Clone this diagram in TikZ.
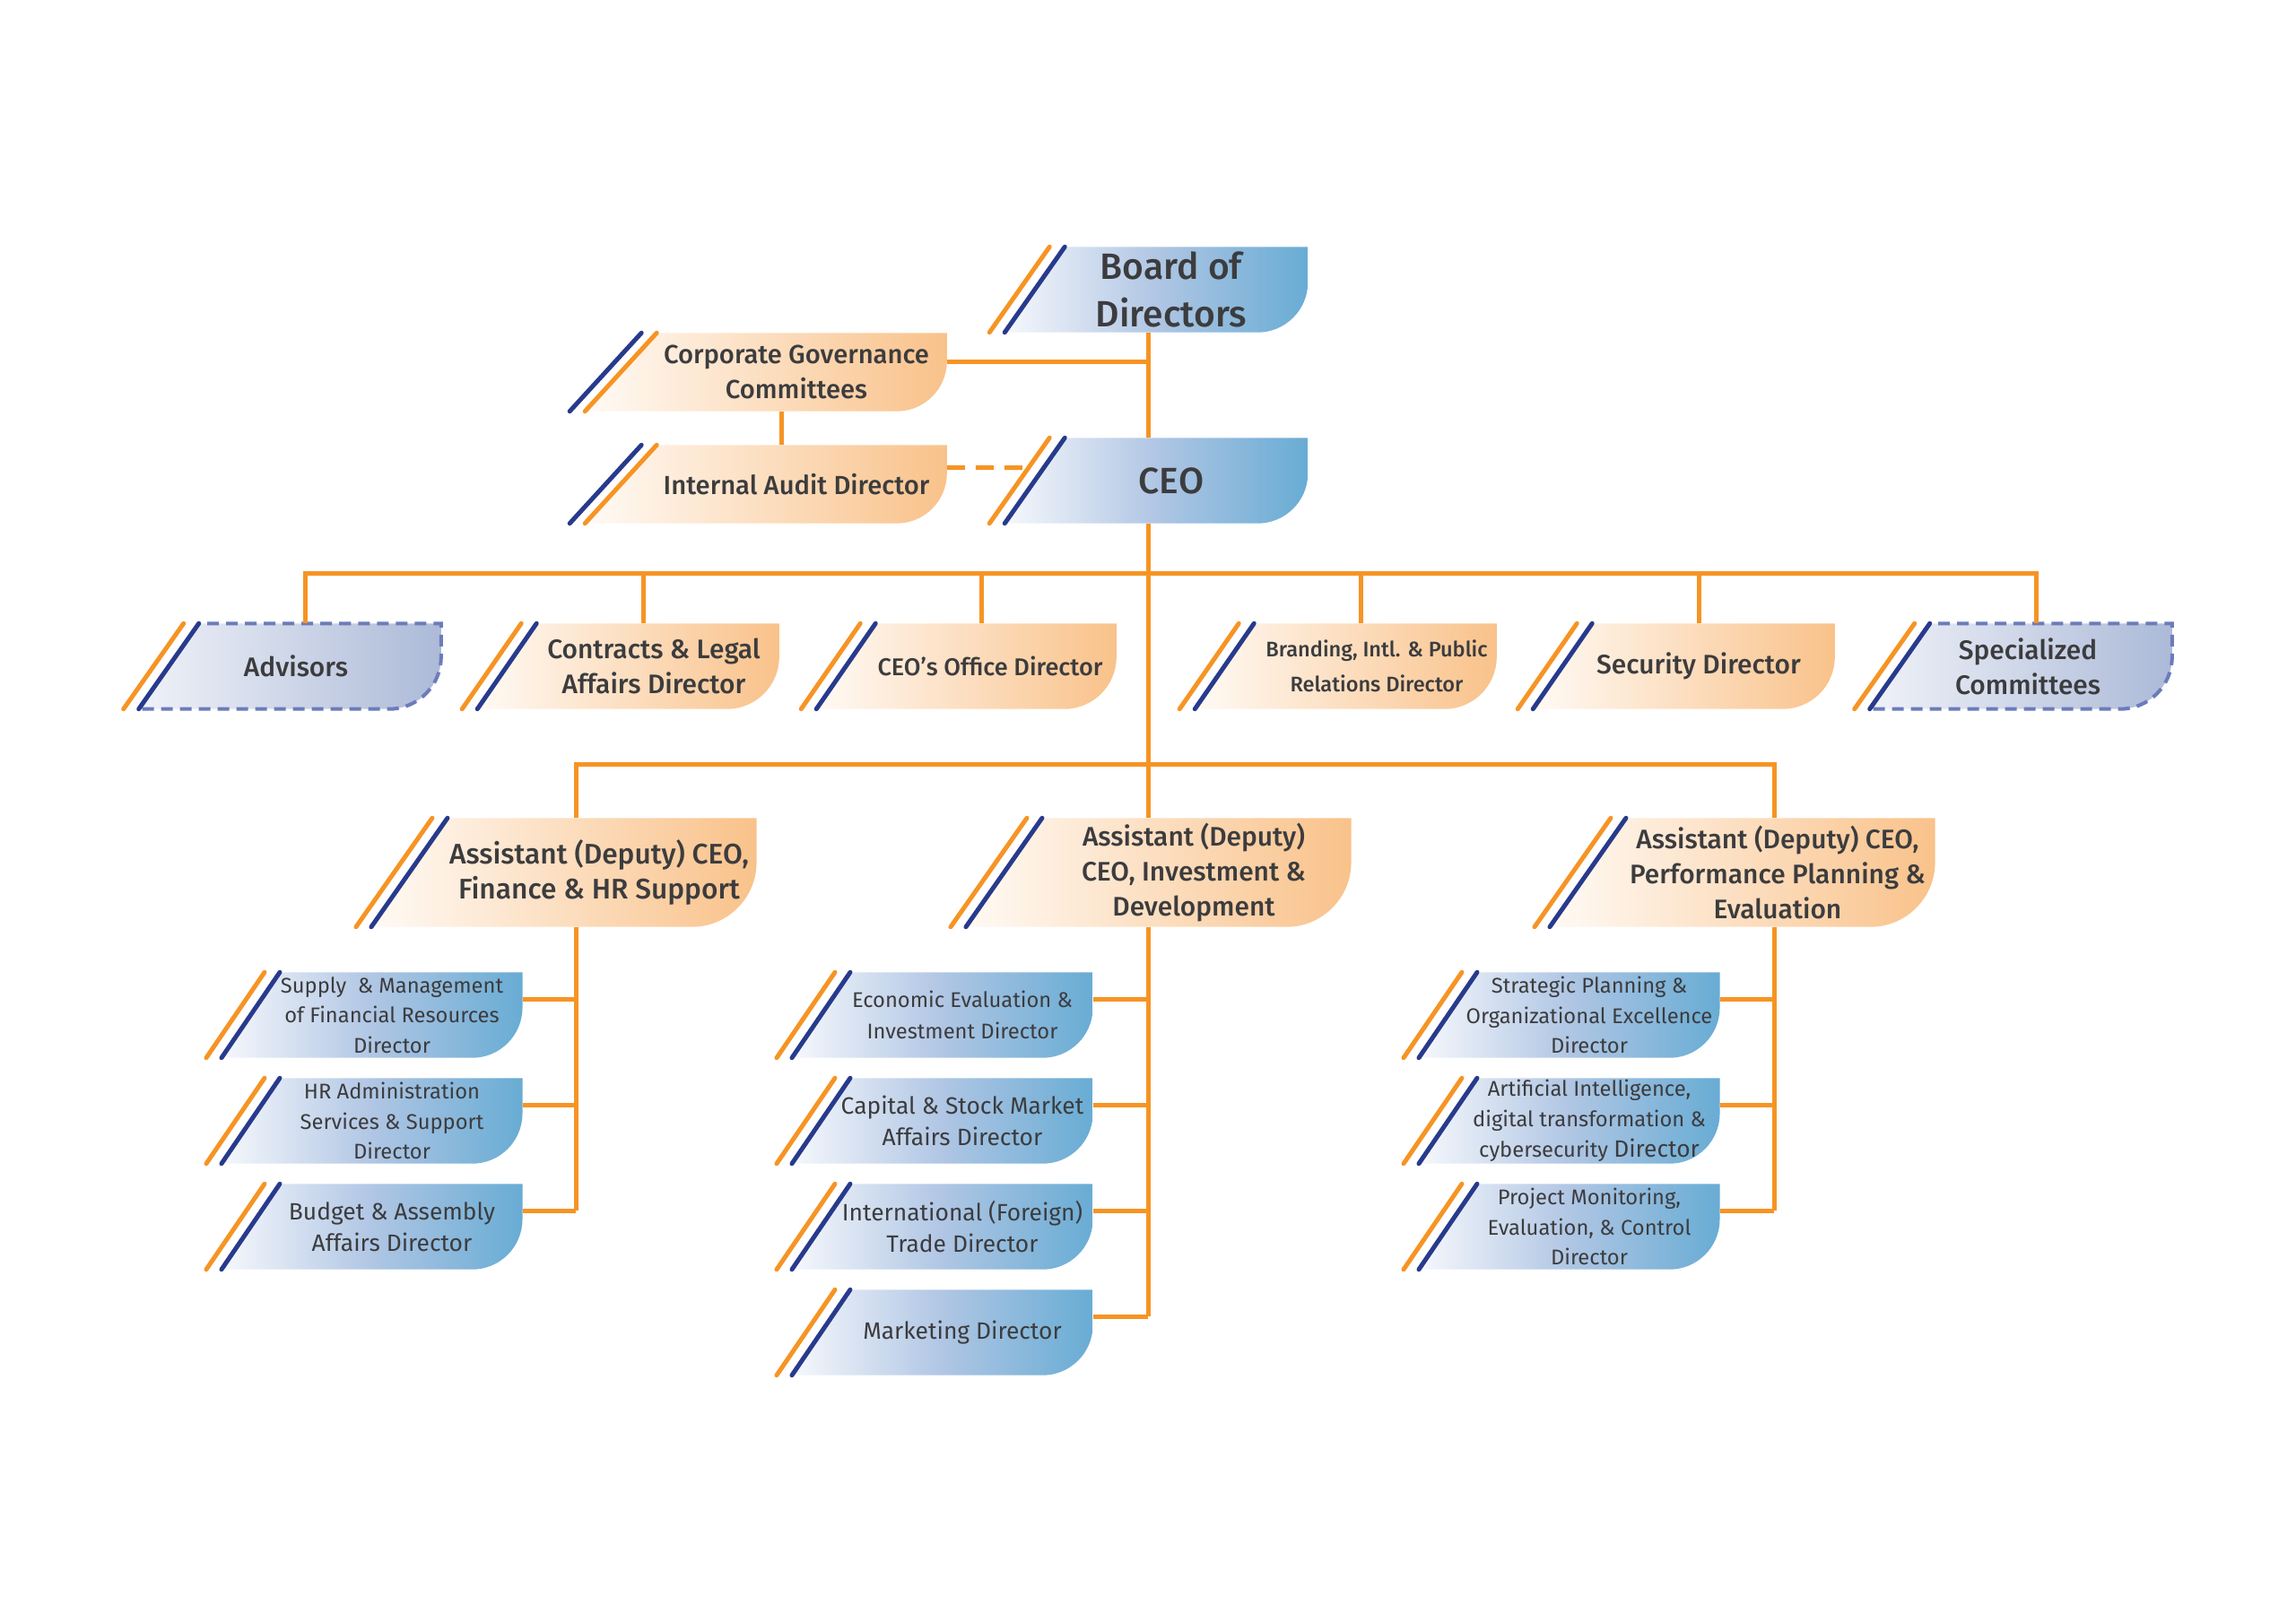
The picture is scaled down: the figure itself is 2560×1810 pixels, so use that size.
\documentclass[tikz,border=0pt]{standalone}
\usepackage{fontspec}
\setmainfont{Fira Sans}[BoldFont={Fira Sans Medium}]
\usetikzlibrary{calc,backgrounds}
\definecolor{lineor}{RGB}{246,148,36}
\definecolor{navy}{RGB}{40,58,140}
\definecolor{blueL}{RGB}{246,248,252}
\definecolor{blueM}{RGB}{176,198,228}
\definecolor{blueR}{RGB}{104,172,212}
\definecolor{orL}{RGB}{255,250,245}
\definecolor{orR}{RGB}{249,194,138}
\definecolor{greyL}{RGB}{240,242,248}
\definecolor{greyR}{RGB}{172,186,216}
\definecolor{dashc}{RGB}{108,124,186}
\definecolor{txt}{RGB}{60,60,62}
\newcommand\fbig{\fontsize{11.6}{15}\selectfont}
\newcommand\fmed{\fontsize{8.5}{11.1}\selectfont}
\newcommand\fsm{\fontsize{7.5}{10}\selectfont}
\newcommand\ftiny{\fontsize{6.75}{9.6}\selectfont}
\tikzset{
  link/.style={draw=lineor,line width=0.05cm},
  slash/.style={line width=0.05cm,line cap=round},
  tb/.style={inner sep=0pt,align=center,text=txt},
  topbox/.style={tb,minimum width=3.03cm,minimum height=0.94cm,font=\fbig\bfseries},
  govbox/.style={tb,minimum width=3.34cm,minimum height=0.86cm,font=\fontsize{8.3}{11}\selectfont\bfseries},
  rowbox/.style={tb,minimum width=3.02cm,minimum height=0.94cm,font=\fmed\bfseries},
  asstbox/.style={tb,minimum width=3.495cm,minimum height=1.2cm,font=\fmed\bfseries},
  lowbox/.style={tb,minimum width=2.895cm,minimum height=0.94cm,font=\ftiny},
  bluefill/.style={left color=blueL,right color=blueR,middle color=blueM},
  orfill/.style={left color=orL,right color=orR},
  greyfill/.style={left color=greyL,right color=greyR,draw=dashc,line width=0.04cm,dash pattern=on 0.13cm off 0.08cm}
}
% tab behind a node: name, slant, corner, fill, outer slash, inner slash, left extension
\newcommand\orgtab[7]{%
  \begin{scope}[on background layer]
    \path[#4] ($(#1.south west)+(-#2/2-#7,0)$) coordinate (#1-bl)
      -- ($(#1.north west)+(#2/2-#7,0)$) coordinate (#1-tl)
      -- (#1.north east) -- ($(#1.south east)+(0,-#3)$)
      .. controls ($(#1.south east)+(0,-0.45*#3)$) and ($(#1.south east)+(-0.45*#3,0)$)
      .. ($(#1.south east)+(-#3,0)$) -- cycle;
    \draw[slash,#5] ($(#1-bl)+(-17,0)$) -- ($(#1-tl)+(-17,0)$);
    \draw[slash,#6] (#1-bl) -- (#1-tl);
  \end{scope}
  \coordinate (#1-top) at ($(#1.north)+(-#7/2,0)$);}

\begin{document}
\begin{tikzpicture}[x=0.01cm,y=-0.01cm]
 \useasboundingbox (0,0) rectangle (2560,1810);
 % board, ceo, governance
 \node[topbox] (bod) at (1306,323){Board of\\Directors};
 \node[topbox] (ceo) at (1306,536){CEO};
 \node[govbox] (cgc) at (888,415){Corporate Governance\\Committees};
 \node[govbox] (iad) at (888,540){Internal Audit Director};
 \orgtab{bod}{67}{56}{bluefill}{lineor}{navy}{0}
 \orgtab{ceo}{67}{56}{bluefill}{lineor}{navy}{0}
 \orgtab{cgc}{80}{56}{orfill}{navy}{lineor}{28}
 \orgtab{iad}{80}{56}{orfill}{navy}{lineor}{28}
 % directors under the ceo
 \node[rowbox,minimum width=3.22cm] (adv) at (330,743){Advisors};
 \node[rowbox,minimum width=2.78cm] (con) at (729,743){Contracts \& Legal\\Affairs Director};
 \node[rowbox,minimum width=2.80cm,font=\fontsize{7.7}{11}\selectfont\bfseries] (off) at (1104,743){CEO’s Office Director};
 \node[rowbox,minimum width=2.66cm,font=\fontsize{6.7}{11}\selectfont\bfseries] (brd) at (1535,743){Branding, Intl. \& Public\\Relations Director};
 \node[rowbox] (sec) at (1894,743){Security Director};
 \node[rowbox,minimum width=3.20cm] (spc) at (2261,743){Specialized\\Committees};
 \orgtab{adv}{67}{58}{greyfill}{lineor}{navy}{-20}
 \orgtab{spc}{67}{58}{greyfill}{lineor}{navy}{-18}
 \foreach \n/\e in {con/24,off/20,brd/36,sec/0}{\orgtab{\n}{66}{58}{orfill}{lineor}{navy}{\e}}
 % assistants
 \node[asstbox,font=\fontsize{9}{11.1}\selectfont\bfseries] (fin) at (668,973){Assistant (Deputy) CEO,\\Finance \& HR Support};
 \node[asstbox] (inv) at (1331,973){Assistant (Deputy)\\CEO, Investment \&\\Development};
 \node[asstbox] (prf) at (1982,973){Assistant (Deputy) CEO,\\Performance Planning \&\\Evaluation};
 \foreach \n in {fin,inv,prf}{\orgtab{\n}{85}{72}{orfill}{lineor}{navy}{36}}
 % finance column
 \node[lowbox] (sup) at (437,1132){Supply~ \& Management\\of Financial Resources\\Director};
 \node[lowbox] (hra) at (437,1250){HR Administration\\Services \& Support\\Director};
 \node[lowbox,font=\fsm] (bud) at (437,1368){Budget \& Assembly\\Affairs Director};
 % investment column
 \node[lowbox,font=\fontsize{6.75}{10}\selectfont] (eco) at (1073,1132){Economic Evaluation \&\\Investment Director};
 \node[lowbox,font=\fsm] (cap) at (1073,1250){Capital \& Stock Market\\Affairs Director};
 \node[lowbox,font=\fsm] (int) at (1073,1368){International (Foreign)\\Trade Director};
 \node[lowbox,font=\fsm] (mkt) at (1073,1486){Marketing Director};
 % planning column
 \node[lowbox] (spl) at (1772,1132){Strategic Planning \&\\Organizational Excellence\\Director};
 \node[lowbox] (ai) at (1772,1250){Artificial Intelligence,\\digital transformation \&\\cybersecurity {\fsm Director}};
 \node[lowbox] (pmo) at (1772,1368){Project Monitoring,\\Evaluation, \& Control\\Director};
 \foreach \n in {sup,hra,bud,eco,cap,int,mkt,spl,ai,pmo}{\orgtab{\n}{65}{56}{bluefill}{lineor}{navy}{12}}

 % connectors
 \coordinate (trunk) at (1280,0);
 \coordinate (gx) at (871,0);
 \coordinate (bus1) at (0,640);
 \coordinate (sL) at (642,853);
 \coordinate (sR) at (1978,853);
 \coordinate (cgc-o) at ($(cgc.north east)+(0,32)$);
 \draw[link] (bod.south -| trunk) -- (ceo.north -| trunk);
 \draw[link] (cgc-o) -- (cgc-o -| trunk);
 \draw[link] (cgc.south -| gx) -- (iad.north -| gx);
 \draw[link,dash pattern=on 0.2cm off 0.12cm] ($(iad.north east)+(0,25)$) -- ($(ceo-bl)!0.65!(ceo-tl)+(-17,0)$);
 \draw[link] (adv-top) |- (spc-top |- bus1) -- (spc-top);
 \foreach \n in {con,off,brd,sec}{\draw[link] (\n-top) -- (\n-top |- bus1);}
 \draw[link] (ceo.south -| trunk) -- (inv.north -| trunk);
 \draw[link] (sL |- fin.north) -- (sL) -- (sR) -- (sR |- prf.north);
 \foreach \n/\sp in {sup/sL,hra/sL,bud/sL,eco/trunk,cap/trunk,int/trunk,mkt/trunk,spl/sR,ai/sR,pmo/sR}{
   \coordinate (\n-o) at ($(\n.north east)+(0,30)$);
   \draw[link] (\n-o) -- (\n-o -| \sp);
 }
 \foreach \sp/\s/\e in {sL/fin/bud, trunk/inv/mkt, sR/prf/pmo}{
   \draw[link] (\sp |- \s.south) -- (\sp |- \e-o);
 }
\end{tikzpicture}
\end{document}
